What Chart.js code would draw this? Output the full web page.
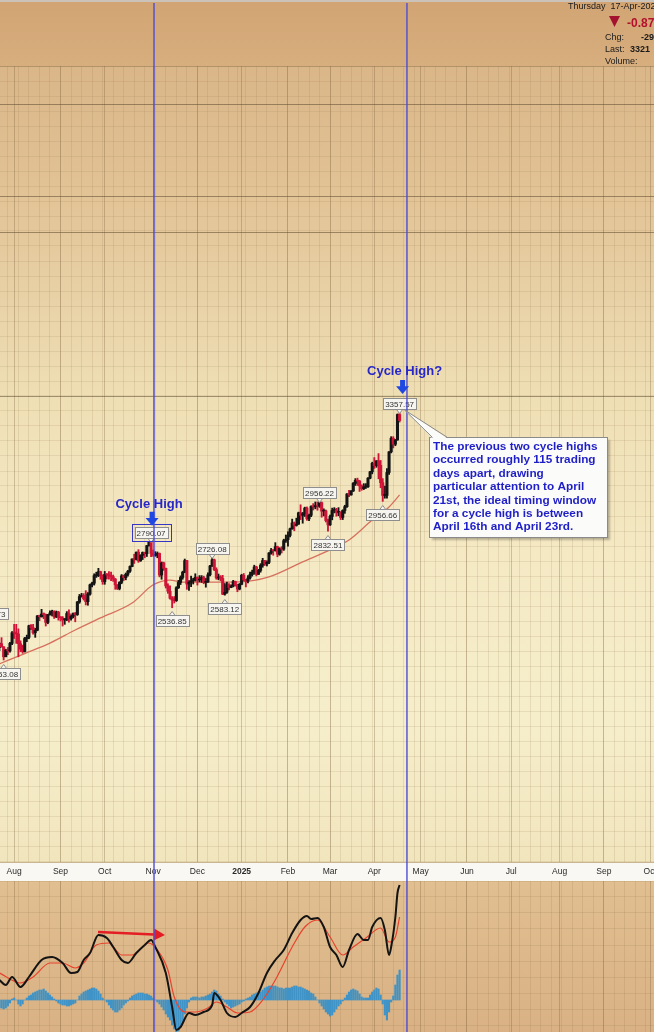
<!DOCTYPE html>
<html><head><meta charset="utf-8">
<script src="https://cdn.jsdelivr.net/npm/chart.js@4.4.1/dist/chart.umd.min.js"></script>
<style>
html,body{margin:0;padding:0;background:#dcb486;}
#wrap{position:relative;width:654px;height:1032px;overflow:hidden;}
#main{position:absolute;left:0;top:0;}
#osc{position:absolute;left:0;top:881px;}
</style></head><body>
<div id="wrap"><canvas id="main" width="654" height="881"></canvas><canvas id="osc" width="654" height="151"></canvas></div>
<script>
// ---------------- DATA ----------------
const dates = ['2024-07-17','2024-07-18','2024-07-19','2024-07-22','2024-07-23','2024-07-24','2024-07-25','2024-07-26','2024-07-29','2024-07-30','2024-07-31',
'2024-08-01','2024-08-02','2024-08-05','2024-08-06','2024-08-07','2024-08-08','2024-08-09','2024-08-12','2024-08-13','2024-08-14','2024-08-15','2024-08-16','2024-08-19','2024-08-20','2024-08-21','2024-08-22','2024-08-23','2024-08-26','2024-08-27','2024-08-28','2024-08-29','2024-08-30',
'2024-09-02','2024-09-03','2024-09-04','2024-09-05','2024-09-06','2024-09-09','2024-09-10','2024-09-11','2024-09-12','2024-09-13','2024-09-16','2024-09-17','2024-09-18','2024-09-19','2024-09-20','2024-09-23','2024-09-24','2024-09-25','2024-09-26','2024-09-27','2024-09-30',
'2024-10-01','2024-10-02','2024-10-03','2024-10-04','2024-10-07','2024-10-08','2024-10-09','2024-10-10','2024-10-11','2024-10-14','2024-10-15','2024-10-16','2024-10-17','2024-10-18','2024-10-21','2024-10-22','2024-10-23','2024-10-24','2024-10-25','2024-10-28','2024-10-29','2024-10-30','2024-10-31',
'2024-11-01','2024-11-04','2024-11-05','2024-11-06','2024-11-07','2024-11-08','2024-11-11','2024-11-12','2024-11-13','2024-11-14','2024-11-15','2024-11-18','2024-11-19','2024-11-20','2024-11-21','2024-11-22','2024-11-25','2024-11-26','2024-11-27','2024-11-28','2024-11-29',
'2024-12-02','2024-12-03','2024-12-04','2024-12-05','2024-12-06','2024-12-09','2024-12-10','2024-12-11','2024-12-12','2024-12-13','2024-12-16','2024-12-17','2024-12-18','2024-12-19','2024-12-20','2024-12-23','2024-12-24','2024-12-26','2024-12-27','2024-12-30','2024-12-31',
'2025-01-02','2025-01-03','2025-01-06','2025-01-07','2025-01-08','2025-01-09','2025-01-10','2025-01-13','2025-01-14','2025-01-15','2025-01-16','2025-01-17','2025-01-20','2025-01-21','2025-01-22','2025-01-23','2025-01-24','2025-01-27','2025-01-28','2025-01-29','2025-01-30','2025-01-31',
'2025-02-03','2025-02-04','2025-02-05','2025-02-06','2025-02-07','2025-02-10','2025-02-11','2025-02-12','2025-02-13','2025-02-14','2025-02-17','2025-02-18','2025-02-19','2025-02-20','2025-02-21','2025-02-24','2025-02-25','2025-02-26','2025-02-27','2025-02-28',
'2025-03-03','2025-03-04','2025-03-05','2025-03-06','2025-03-07','2025-03-10','2025-03-11','2025-03-12','2025-03-13','2025-03-14','2025-03-17','2025-03-18','2025-03-19','2025-03-20','2025-03-21','2025-03-24','2025-03-25','2025-03-26','2025-03-27','2025-03-28','2025-03-31',
'2025-04-01','2025-04-02','2025-04-03','2025-04-04','2025-04-07','2025-04-08','2025-04-09','2025-04-10','2025-04-11','2025-04-14','2025-04-15','2025-04-16','2025-04-17'];

const open = [2469,2459,2445,2400,2396,2409,2398,2364,2387,2384,2410,
2447,2446,2443,2409,2390,2382,2427,2431,2472,2465,2447,2456,2507,2504,2514,2512,2484,2512,2518,2524,2504,2521,
2503,2500,2493,2495,2516,2497,2506,2516,2512,2558,2578,2582,2570,2559,2587,2622,2628,2657,2657,2672,2658,
2634,2662,2659,2656,2653,2644,2622,2608,2631,2656,2649,2662,2674,2692,2721,2719,2748,2714,2736,2747,2742,2774,2788,
2743,2736,2736,2743,2659,2706,2685,2618,2598,2572,2565,2563,2611,2631,2650,2670,2715,2625,2632,2637,2640,
2650,2640,2643,2650,2631,2633,2660,2694,2718,2680,2648,2652,2646,2587,2594,2622,2612,2618,2634,2621,2606,
2624,2658,2640,2636,2648,2661,2670,2690,2662,2677,2697,2715,2702,2708,2745,2755,2754,2770,2740,2763,2760,2794,
2798,2815,2842,2866,2856,2861,2908,2898,2904,2928,2883,2898,2935,2933,2939,2936,2951,2915,2916,2876,
2858,2893,2918,2920,2910,2910,2889,2918,2934,2988,2984,3001,3034,3047,3044,3023,3011,3019,3019,3057,3085,
3123,3113,3134,3114,3037,2982,2982,3082,3175,3237,3210,3230,3350];

const high = [2483.73,2470,2449,2412,2412,2430,2399,2390,2396,2414,2451,
2477,2477,2461,2419,2404,2431,2439,2474,2476,2477,2463,2509,2510,2531,2518,2514,2513,2526,2528,2526,2525,2524,
2505,2505,2498,2523,2529,2511,2518,2520,2560,2586,2590,2589,2600,2593,2625,2632,2664,2670,2685,2674,2660,
2673,2665,2672,2670,2659,2646,2623,2634,2661,2659,2667,2677,2695,2722,2740,2749,2758,2738,2749,2748,2775,2789,2790.07,
2757,2750,2749,2745,2710,2709,2686,2626,2618,2578,2578,2615,2639,2656,2674,2721,2716,2638,2655,2647,2664,
2652,2657,2657,2655,2646,2668,2697,2726.08,2721,2687,2663,2657,2658,2627,2632,2627,2622,2639,2636,2624,2627,
2662,2665,2643,2657,2670,2678,2697,2693,2681,2703,2724,2716,2714,2746,2763,2758,2786,2772,2766,2770,2800,2817,
2830,2845,2882,2870,2886,2911,2942,2910,2932,2933,2903,2938,2947,2954,2954,2956.22,2954,2925,2920,2882,
2899,2928,2930,2927,2930,2913,2921,2940,2990,3004,3003,3038,3055,3057,3047,3028,3033,3033,3059,3087,3128,
3149,3135,3167,3136,3055,3022,3099,3176,3245,3245,3232,3353,3357.57];

const low = [2454,2437,2393,2384,2385,2397,2353.08,2364,2371,2380,2406,
2427,2410,2364,2381,2376,2380,2416,2426,2458,2442,2431,2454,2490,2503,2497,2471,2479,2510,2507,2498,2501,2492,
2489,2471,2477,2490,2485,2492,2500,2486,2509,2553,2576,2565,2547,2546,2583,2614,2621,2650,2653,2643,2624,
2624,2644,2643,2638,2635,2605,2604,2603,2626,2638,2641,2655,2669,2691,2704,2717,2708,2712,2719,2726,2731,2772,2730,
2731,2732,2726,2652,2643,2677,2610,2590,2568,2536.85,2554,2560,2608,2623,2643,2668,2605,2601,2615,2625,2636,
2621,2633,2631,2626,2613,2631,2656,2692,2676,2643,2641,2637,2585,2583.12,2590,2603,2611,2614,2617,2596,2603,
2622,2637,2614,2629,2643,2655,2662,2656,2661,2670,2689,2696,2694,2703,2740,2736,2752,2730,2736,2745,2755,2787,
2772,2809,2840,2834,2853,2860,2880,2865,2893,2877,2876,2892,2920,2925,2919,2931,2890,2895,2870,2832.51,
2856,2879,2908,2894,2896,2880,2880,2906,2931,2977,2983,2999,3025,3025,2999,3004,3007,3012,3016,3054,3076,
3100,3105,3054,3015,2956.66,2970,2970,3073,3170,3193,3203,3228,3314];

const close = [2459,2445,2400,2396,2409,2398,2364,2387,2384,2410,2447,
2446,2443,2409,2390,2382,2427,2431,2472,2465,2447,2456,2507,2504,2514,2512,2484,2512,2518,2524,2504,2521,2503,
2500,2493,2495,2516,2497,2506,2516,2512,2558,2578,2582,2570,2559,2587,2622,2628,2657,2657,2672,2658,2634,
2662,2659,2656,2653,2644,2622,2608,2631,2656,2649,2662,2674,2692,2721,2719,2748,2714,2736,2747,2742,2774,2788,2743,
2736,2736,2743,2659,2706,2685,2618,2598,2572,2565,2563,2611,2631,2650,2670,2715,2625,2632,2637,2640,2650,
2640,2643,2650,2631,2633,2660,2694,2718,2680,2648,2652,2646,2587,2594,2622,2612,2618,2634,2621,2606,2624,
2658,2640,2636,2648,2661,2670,2690,2662,2677,2697,2715,2702,2708,2745,2755,2754,2770,2740,2763,2760,2794,2798,
2815,2842,2866,2856,2861,2908,2898,2904,2928,2883,2898,2935,2933,2939,2936,2951,2915,2916,2876,2858,
2893,2918,2920,2910,2910,2889,2918,2934,2988,2984,3001,3034,3047,3044,3023,3011,3019,3019,3057,3085,3123,
3113,3134,3114,3037,2982,2982,3082,3175,3237,3210,3230,3350,3321];

// moving average (trading-day index, value)
const maIdx = [4,16,28,40,52,67,77,85,91,104,118,132,148,161,170,181,189,194];
const maVal = [2340,2375,2411,2457,2500,2554,2622,2640,2632,2632,2633,2652,2710,2757,2797,2878,2933,2984];

// x axis: month ticks (trading-day index of the month start) and labels
const monthTickIdx = [11,33,54,77,98,119,141,161,182,204,226,247,270,291,313];
const monthTickLabels = ['Aug','Sep','Oct','Nov','Dec','2025','Feb','Mar','Apr','May','Jun','Jul','Aug','Sep','Oct'];

// major horizontal price lines
const majorPriceLines = [3436,4356,4587,5237];

// cycle lines (trading-day index)
const cycleLines = [77.4, 197.5];

// labelled highs / lows
const labelIdx  = [0,6,76,86,105,111,156,160,186,194];
const labelKind = ['H','L','H','L','H','L','H','L','L','H'];

// lower panel oscillator
const blackIdx = [4,7,10,14,18,24,29,34,38,41,44,47,51,55,58,62,65,69,73,76,78,83,86,88,90,94,97,101,105,106,109,112,116,119,123,127,131,135,139,143,147,150,152,155,158,161,164,167,170,174,177,179,181,185,187,189,190,192,193,194];
const blackVal = [52,47,55,45,55,72,75,69,59,60,72,79,97,94,85,72,69,79,87,92,85,59,25,2,5,19,17,20,27,39,32,19,15,19,25,39,59,72,82,99,112,116,113,114,105,85,77,65,82,98,92,92,105,114,102,77,85,115,139,147];
const redIdx = [4,14,20,28,34,40,44,50,56,62,67,75,79,84,87,92,97,103,107,112,117,123,129,135,143,149,155,161,167,172,178,185,189,192,194];
const redVal = [59,49,55,69,69,64,69,87,89,77,77,89,82,62,35,20,20,24,30,25,19,20,32,52,85,105,112,95,77,85,94,104,90,95,115];
const histStart = 4;
const histVals = [-8,-8,-9,-8,-6,-3,
1,2,0,-4,-6,-4,0,2,4,5,
7,8,9,10,10,11,9,7,5,3,
1,-1,-3,-4,-5,-5,-6,-6,-5,-4,
-3,0,4,6,8,9,10,11,12,12,
11,9,6,2,0,-2,-5,-8,-10,-12,
-12,-10,-8,-5,-3,-1,2,4,5,6,
7,7,7,6,6,5,4,2,0,-2,
-4,-7,-10,-14,-17,-20,-25,-29,-32,-31,
-27,-22,-14,-8,-2,2,3,3,3,2,
3,3,4,5,6,8,10,9,6,4,
1,-2,-4,-6,-8,-7,-6,-5,-4,-2,
-1,1,2,3,5,6,7,8,8,10,
12,13,14,14,14,14,13,12,12,11,
12,12,12,13,14,14,13,13,12,11,
10,9,7,6,3,0,-3,-6,-9,-12,
-14,-16,-15,-12,-9,-6,-4,-1,2,5,
8,10,11,10,9,6,3,2,2,2,
5,8,10,12,11,5,-4,-15,-20,-12,
-2,4,15,25,30];
const divArrowIdx = [50.8, 82.6];
const divArrowVal = [100, 97];

const calloutLines = ['The previous two cycle highs','occurred roughly 115 trading','days apart, drawing','particular attention to April','21st, the ideal timing window','for a cycle high is between','April 16th and April 23rd.'];

// ---------------- LAYOUT CONSTANTS ----------------
const X_MIN = 4.27, X_MAX = 314.8;
const Y_MIN = 1759.5, Y_MAX = 5532;
const FONT = '"Liberation Sans", Arial, sans-serif';

const weekTicks = [];
for (let v = 3; v <= 113; v += 5) weekTicks.push(v);
weekTicks.push(117);
for (let v = 121; v <= 314; v += 5) weekTicks.push(v);

const candleColor = close.map((c, i) => c >= open[i] ? '#141414' : '#cf1437');

function zeroW(s){ s.width = 0; s.paddingTop = 0; s.paddingBottom = 0; }
function zeroH(s){ s.height = 0; s.paddingLeft = 0; s.paddingRight = 0; }

function downArrow(ctx, cx, top, h, color){
  ctx.fillStyle = color;
  ctx.beginPath();
  ctx.moveTo(cx - 2.5, top);
  ctx.lineTo(cx + 2.5, top);
  ctx.lineTo(cx + 2.5, top + h * 0.45);
  ctx.lineTo(cx + 6.5, top + h * 0.45);
  ctx.lineTo(cx, top + h);
  ctx.lineTo(cx - 6.5, top + h * 0.45);
  ctx.lineTo(cx - 2.5, top + h * 0.45);
  ctx.closePath();
  ctx.fill();
}

const mainBg = {
  id: 'mainBg',
  beforeDraw(chart){
    const ctx = chart.ctx, a = chart.chartArea, W = chart.width, H = chart.height;
    ctx.save();
    let g = ctx.createLinearGradient(0, 0, 0, a.top);
    g.addColorStop(0, '#d2a473'); g.addColorStop(1, '#d7ae7e');
    ctx.fillStyle = g; ctx.fillRect(0, 0, W, a.top);
    ctx.fillStyle = '#cbc3b9'; ctx.fillRect(0, 0, W, 2);
    g = ctx.createLinearGradient(0, a.top, 0, a.bottom);
    g.addColorStop(0, '#dab688');
    g.addColorStop(0.17, '#e2c497');
    g.addColorStop(0.30, '#e9d2a7');
    g.addColorStop(0.42, '#efdfb5');
    g.addColorStop(0.61, '#f4e9c3');
    g.addColorStop(0.82, '#f6eecb');
    g.addColorStop(1, '#f1e5bd');
    ctx.fillStyle = g; ctx.fillRect(0, a.top, W, a.bottom - a.top);
    ctx.fillStyle = '#faf8f2'; ctx.fillRect(0, a.bottom, W, H - a.bottom);
    ctx.fillStyle = '#c9b592'; ctx.fillRect(0, a.bottom, W, 1);
    ctx.fillStyle = 'rgba(120,100,70,0.35)'; ctx.fillRect(0, a.top, W, 1);
    ctx.restore();
  }
};

const mainAnn = {
  id: 'mainAnn',
  afterDraw(chart){
    const ctx = chart.ctx, xs = chart.scales.x, ys = chart.scales.y;
    ctx.save();
    // price labels
    labelIdx.forEach((i, k) => {
      const isHigh = labelKind[k] === 'H';
      const v = isHigh ? high[i] : low[i];
      const px = xs.getPixelForValue(i), py = ys.getPixelForValue(v);
      const txt = v.toFixed(2);
      ctx.font = '8px ' + FONT;
      const w = Math.ceil(ctx.measureText(txt).width) + 4, h = 11;
      const cy = isHigh ? py - 9 : py + 13;
      const bx = Math.round(px - w / 2) + 0.5, by = Math.round(cy - h / 2) + 0.5;
      ctx.fillStyle = '#f7f5ef'; ctx.strokeStyle = '#8e8e8e'; ctx.lineWidth = 1;
      ctx.beginPath();
      if (isHigh){ ctx.moveTo(px - 3, by + h); ctx.lineTo(px, by + h + 4); ctx.lineTo(px + 3, by + h); }
      else { ctx.moveTo(px - 3, by); ctx.lineTo(px, by - 4); ctx.lineTo(px + 3, by); }
      ctx.closePath(); ctx.fill(); ctx.stroke();
      ctx.fillRect(bx, by, w, h); ctx.strokeRect(bx, by, w, h);
      if (i === 76){
        ctx.strokeStyle = '#3535c8';
        ctx.strokeRect(bx - 3, by - 3, w + 6, h + 6);
      }
      ctx.fillStyle = '#333'; ctx.textAlign = 'center'; ctx.textBaseline = 'middle';
      ctx.fillText(txt, px, by + h / 2 + 0.5);
    });
    // cycle lines
    ctx.strokeStyle = '#4d4dd4'; ctx.lineWidth = 1.4;
    cycleLines.forEach(v => {
      const x = xs.getPixelForValue(v);
      ctx.beginPath(); ctx.moveTo(x, 3); ctx.lineTo(x, chart.height); ctx.stroke();
    });
    // Cycle High texts & arrows
    const p1x = xs.getPixelForValue(76), p1y = ys.getPixelForValue(high[76]);
    const p2x = xs.getPixelForValue(194), p2y = ys.getPixelForValue(high[194]);
    ctx.font = 'bold 13px ' + FONT; ctx.textAlign = 'center'; ctx.textBaseline = 'alphabetic';
    ctx.fillStyle = '#2727c8';
    ctx.fillText('Cycle High', p1x - 2, p1y - 34);
    ctx.fillText('Cycle High?', p2x + 5, p2y - 38);
    downArrow(ctx, p1x + 1, p1y - 30, 14, '#1f48e2');
    downArrow(ctx, p2x + 3, p2y - 33, 14, '#1f48e2');
    // callout
    const bx = 429.5, by = 437.5, bw = 178, bh = 100;
    ctx.save();
    ctx.shadowColor = 'rgba(0,0,0,0.25)'; ctx.shadowOffsetX = 2; ctx.shadowOffsetY = 2; ctx.shadowBlur = 2;
    ctx.fillStyle = '#fbfbfa';
    ctx.fillRect(bx, by, bw, bh);
    ctx.restore();
    ctx.strokeStyle = '#8a8a8a'; ctx.lineWidth = 1;
    ctx.strokeRect(bx, by, bw, bh);
    ctx.fillStyle = '#fbfbfa';
    ctx.beginPath(); ctx.moveTo(p2x + 5, p2y - 3); ctx.lineTo(bx + 3, by + 1); ctx.lineTo(bx + 18, by + 1); ctx.closePath(); ctx.fill();
    ctx.beginPath(); ctx.moveTo(bx + 3, by); ctx.lineTo(p2x + 5, p2y - 3); ctx.lineTo(bx + 18, by); ctx.stroke();
    ctx.font = 'bold 11.8px ' + FONT; ctx.textAlign = 'left'; ctx.fillStyle = '#1f1fc8';
    calloutLines.forEach((t, k) => ctx.fillText(t, 433, 450 + k * 13.4));
    // header
    ctx.fillStyle = '#1a1a1a'; ctx.font = '9px ' + FONT;
    ctx.fillText('Thursday  17-Apr-2025', 568, 9);
    ctx.fillText('Chg:', 605, 40);
    ctx.fillText('Last:', 605, 52);
    ctx.fillText('Volume:', 605, 64);
    ctx.font = 'bold 9px ' + FONT;
    ctx.fillText('-29', 641, 40);
    ctx.fillText('3321', 630, 52);
    ctx.fillStyle = '#a3122f';
    ctx.beginPath(); ctx.moveTo(609, 16); ctx.lineTo(620, 16); ctx.lineTo(614.5, 27); ctx.closePath(); ctx.fill();
    ctx.fillStyle = '#b3102c'; ctx.font = 'bold 12px ' + FONT;
    ctx.fillText('-0.87%', 627, 27);
    ctx.restore();
  }
};

new Chart(document.getElementById('main'), {
  type: 'bar',
  data: { datasets: [
    { type: 'bar', label: 'range', data: dates.map((d, i) => ({ x: i, y: [low[i], high[i]] })),
      backgroundColor: candleColor, barThickness: 1.2, grouped: false, borderWidth: 0, xAxisID: 'x', yAxisID: 'y', order: 2 },
    { type: 'bar', label: 'body', data: dates.map((d, i) => ({ x: i, y: [open[i], close[i]] })),
      backgroundColor: candleColor, barThickness: 2.4, minBarLength: 1, grouped: false, borderWidth: 0, xAxisID: 'x', yAxisID: 'y', order: 1 },
    { type: 'line', label: 'MA', data: maIdx.map((x, k) => ({ x: x, y: maVal[k] })),
      borderColor: '#d6705e', borderWidth: 1.3, pointRadius: 0, cubicInterpolationMode: 'monotone', xAxisID: 'x', yAxisID: 'y', order: 3 }
  ]},
  options: {
    responsive: false, animation: false, devicePixelRatio: 1,
    layout: { padding: { top: 66, left: 0, right: 0, bottom: 0 } },
    plugins: { legend: { display: false }, tooltip: { enabled: false } },
    scales: {
      x: { type: 'linear', position: 'bottom', min: X_MIN, max: X_MAX, bounds: 'data', offset: false,
        afterBuildTicks(s){ s.ticks = monthTickIdx.map(v => ({ value: v })); },
        ticks: { autoSkip: false, maxRotation: 0, padding: 5, color: '#2a2a2a',
          font: (c) => ({ family: FONT, size: 8.5, weight: (c.tick && c.tick.label === '2025') ? 'bold' : 'normal' }),
          callback: (v, idx) => monthTickLabels[idx] },
        grid: { color: 'rgba(115,88,52,0.3)', drawTicks: false, offset: false },
        border: { display: false },
        afterFit(s){ s.height = 19; s.paddingLeft = 0; s.paddingRight = 0; } },
      xw: { type: 'linear', position: 'bottom', min: X_MIN, max: X_MAX, bounds: 'data', offset: false,
        afterBuildTicks(s){ s.ticks = weekTicks.map(v => ({ value: v })); },
        ticks: { display: false }, grid: { color: 'rgba(150,120,80,0.16)', drawTicks: false, offset: false },
        border: { display: false }, afterFit: zeroH },
      y: { type: 'logarithmic', position: 'right', min: Y_MIN, max: Y_MAX, bounds: 'data',
        afterBuildTicks(s){ s.ticks = majorPriceLines.map(v => ({ value: v })); },
        ticks: { display: false }, grid: { color: 'rgba(95,75,48,0.55)', drawTicks: false },
        border: { display: false }, afterFit: zeroW },
      yg: { type: 'linear', position: 'left', min: 0, max: 796, bounds: 'data',
        afterBuildTicks(s){ const t = []; for (let v = 1; v <= 796; v += 15) t.push({ value: v }); s.ticks = t; },
        ticks: { display: false }, grid: { color: 'rgba(150,120,80,0.15)', drawTicks: false },
        border: { display: false }, afterFit: zeroW }
    }
  },
  plugins: [mainBg, mainAnn]
});

// ---------------- LOWER PANEL ----------------
const oscBg = {
  id: 'oscBg',
  beforeDraw(chart){
    const ctx = chart.ctx;
    const g = ctx.createLinearGradient(0, 0, 0, chart.height);
    g.addColorStop(0, '#e1bf90'); g.addColorStop(1, '#d9b184');
    ctx.save(); ctx.fillStyle = g; ctx.fillRect(0, 0, chart.width, chart.height); ctx.restore();
  }
};
const oscAnn = {
  id: 'oscAnn',
  afterDraw(chart){
    const ctx = chart.ctx, xs = chart.scales.x, ys = chart.scales.yO;
    ctx.save();
    const x0 = xs.getPixelForValue(divArrowIdx[0]), y0 = ys.getPixelForValue(divArrowVal[0]);
    const x1 = xs.getPixelForValue(divArrowIdx[1]), y1 = ys.getPixelForValue(divArrowVal[1]);
    const ang = Math.atan2(y1 - y0, x1 - x0);
    const hx = x1 - 11 * Math.cos(ang), hy = y1 - 11 * Math.sin(ang);
    ctx.strokeStyle = '#e41c24'; ctx.lineWidth = 2.5;
    ctx.beginPath(); ctx.moveTo(x0, y0); ctx.lineTo(hx, hy); ctx.stroke();
    ctx.fillStyle = '#e41c24';
    ctx.beginPath();
    ctx.moveTo(x1, y1);
    ctx.lineTo(hx + 6 * Math.sin(ang), hy - 6 * Math.cos(ang));
    ctx.lineTo(hx - 6 * Math.sin(ang), hy + 6 * Math.cos(ang));
    ctx.closePath(); ctx.fill();
    ctx.strokeStyle = '#4d4dd4'; ctx.lineWidth = 1.4;
    cycleLines.forEach(v => {
      const x = xs.getPixelForValue(v);
      ctx.beginPath(); ctx.moveTo(x, 0); ctx.lineTo(x, chart.height); ctx.stroke();
    });
    ctx.restore();
  }
};

new Chart(document.getElementById('osc'), {
  type: 'bar',
  data: { datasets: [
    { type: 'bar', label: 'hist', data: histVals.map((v, k) => ({ x: histStart + k, y: v })),
      backgroundColor: '#3f93c6', barThickness: 1.5, grouped: false, borderWidth: 0, xAxisID: 'x', yAxisID: 'yH', order: 3 },
    { type: 'line', label: 'signal', data: redIdx.map((x, k) => ({ x: x, y: redVal[k] })),
      borderColor: '#e8432e', borderWidth: 1.2, pointRadius: 0, cubicInterpolationMode: 'monotone', xAxisID: 'x', yAxisID: 'yO', order: 2 },
    { type: 'line', label: 'osc', data: blackIdx.map((x, k) => ({ x: x, y: blackVal[k] })),
      borderColor: '#141414', borderWidth: 2, pointRadius: 0, cubicInterpolationMode: 'monotone', xAxisID: 'x', yAxisID: 'yO', order: 1 }
  ]},
  options: {
    responsive: false, animation: false, devicePixelRatio: 1,
    layout: { padding: 0 },
    plugins: { legend: { display: false }, tooltip: { enabled: false } },
    scales: {
      x: { type: 'linear', position: 'bottom', min: X_MIN, max: X_MAX, bounds: 'data', offset: false,
        afterBuildTicks(s){ s.ticks = monthTickIdx.map(v => ({ value: v })); },
        ticks: { display: false }, grid: { color: 'rgba(115,88,52,0.3)', drawTicks: false, offset: false },
        border: { display: false }, afterFit: zeroH },
      xw: { type: 'linear', position: 'bottom', min: X_MIN, max: X_MAX, bounds: 'data', offset: false,
        afterBuildTicks(s){ s.ticks = weekTicks.map(v => ({ value: v })); },
        ticks: { display: false }, grid: { color: 'rgba(140,110,70,0.16)', drawTicks: false, offset: false },
        border: { display: false }, afterFit: zeroH },
      yO: { type: 'linear', position: 'left', min: 0, max: 151, bounds: 'data',
        afterBuildTicks(s){ const t = []; for (let v = 7; v <= 151; v += 16) t.push({ value: v }); s.ticks = t; },
        ticks: { display: false }, grid: { color: 'rgba(140,110,70,0.16)', drawTicks: false },
        border: { display: false }, afterFit: zeroW },
      yH: { type: 'linear', position: 'right', min: -32, max: 119, bounds: 'data',
        ticks: { display: false }, grid: { display: false }, border: { display: false }, afterFit: zeroW }
    }
  },
  plugins: [oscBg, oscAnn]
});
</script>
</body></html>
